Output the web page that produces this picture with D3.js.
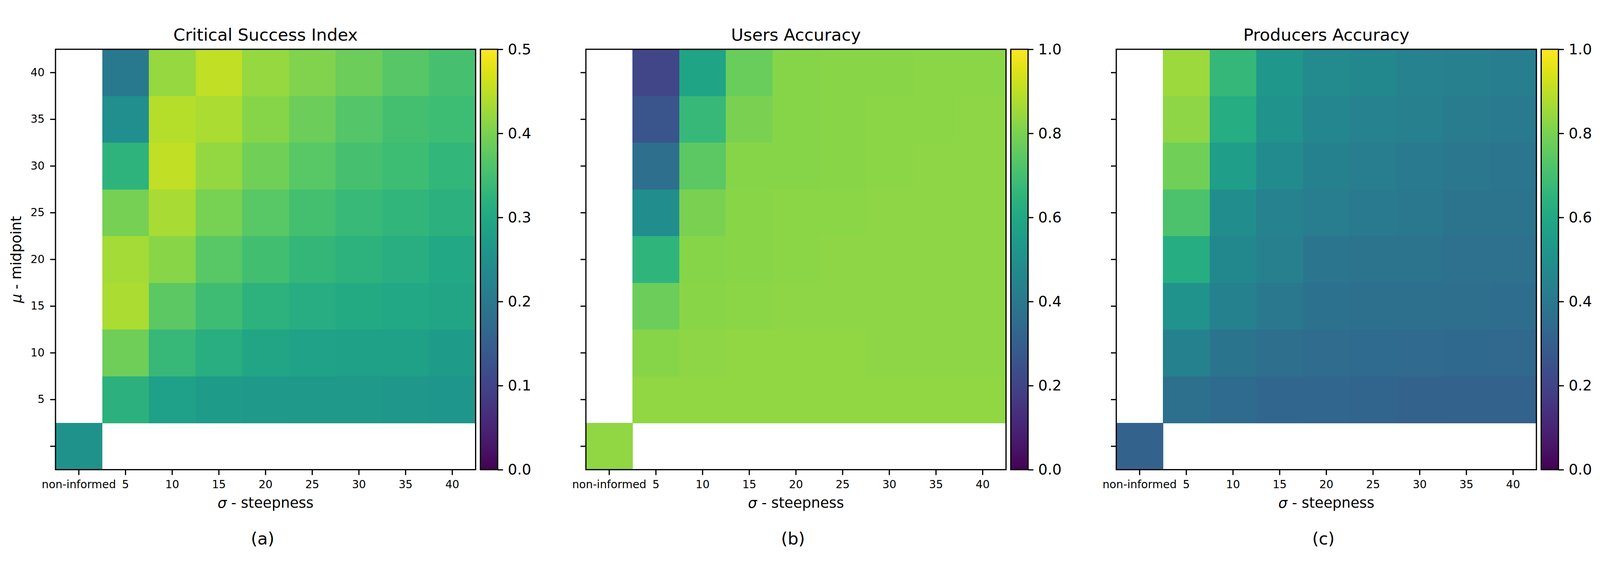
<!DOCTYPE html>
<html>
<head>
<meta charset="utf-8">
<script src="https://cdn.jsdelivr.net/npm/d3@7"></script>
<style>
html, body { margin: 0; padding: 0; width: 100%; height: 100%; overflow: hidden; background: white; }
svg { display: block; }
text { font-family: "DejaVu Sans", sans-serif; fill: black; }
</style>
</head>
<body>
<svg id="chart" width="100%" height="100%" viewBox="0 0 4353 1466" preserveAspectRatio="xMidYMid meet"></svg>
<script>
/*******
* data *
*******/
var sigma_cats = ["non-informed", "5", "10", "15", "20", "25", "30", "35", "40"]
var mu_cats = ["non-informed", "5", "10", "15", "20", "25", "30", "35", "40"]
var mu_tick_labels = ["", "5", "10", "15", "20", "25", "30", "35", "40"]

// rows go from mu = 40 (top) down to mu = 5, columns are sigma = 5 .. 40
var mu_rows = ["40", "35", "30", "25", "20", "15", "10", "5"]

var csi_values = [
  [0.203, 0.420, 0.452, 0.421, 0.405, 0.387, 0.369, 0.352],
  [0.248, 0.445, 0.437, 0.410, 0.387, 0.367, 0.351, 0.343],
  [0.323, 0.452, 0.418, 0.392, 0.370, 0.352, 0.342, 0.330],
  [0.395, 0.435, 0.398, 0.370, 0.350, 0.337, 0.328, 0.320],
  [0.433, 0.411, 0.371, 0.348, 0.331, 0.322, 0.313, 0.300],
  [0.436, 0.374, 0.344, 0.322, 0.312, 0.303, 0.299, 0.293],
  [0.390, 0.335, 0.313, 0.293, 0.289, 0.285, 0.285, 0.275],
  [0.320, 0.282, 0.274, 0.271, 0.268, 0.268, 0.265, 0.263]
]
var csi_noninf = 0.255

var users_values = [
  [0.210, 0.585, 0.772, 0.817, 0.823, 0.823, 0.825, 0.826],
  [0.260, 0.670, 0.800, 0.820, 0.823, 0.825, 0.826, 0.832],
  [0.360, 0.748, 0.817, 0.820, 0.823, 0.826, 0.830, 0.830],
  [0.490, 0.797, 0.822, 0.825, 0.825, 0.832, 0.832, 0.832],
  [0.650, 0.817, 0.823, 0.826, 0.830, 0.832, 0.832, 0.832],
  [0.775, 0.822, 0.827, 0.832, 0.832, 0.832, 0.832, 0.832],
  [0.817, 0.832, 0.833, 0.833, 0.833, 0.832, 0.832, 0.832],
  [0.835, 0.835, 0.835, 0.835, 0.835, 0.835, 0.835, 0.835]
]
var users_noninf = 0.835

var producers_values = [
  [0.850, 0.665, 0.535, 0.475, 0.465, 0.445, 0.430, 0.425],
  [0.830, 0.620, 0.515, 0.460, 0.440, 0.430, 0.415, 0.410],
  [0.785, 0.555, 0.480, 0.435, 0.420, 0.410, 0.395, 0.390],
  [0.715, 0.490, 0.445, 0.420, 0.410, 0.400, 0.380, 0.380],
  [0.620, 0.465, 0.430, 0.390, 0.380, 0.380, 0.370, 0.370],
  [0.515, 0.435, 0.400, 0.375, 0.365, 0.365, 0.360, 0.355],
  [0.435, 0.385, 0.360, 0.348, 0.345, 0.340, 0.338, 0.335],
  [0.365, 0.345, 0.330, 0.325, 0.322, 0.315, 0.310, 0.310]
]
var producers_noninf = 0.315

var titles = ["Critical Success Index", "Users Accuracy", "Producers Accuracy"]
var sub_labels = ["(a)", "(b)", "(c)"]
var vmax = [0.5, 1.0, 1.0]
var cbar_ticks = [[0, 0.1, 0.2, 0.3, 0.4, 0.5],
                  [0, 0.2, 0.4, 0.6, 0.8, 1.0],
                  [0, 0.2, 0.4, 0.6, 0.8, 1.0]]

var all_values = [csi_values, users_values, producers_values]
var all_noninf = [csi_noninf, users_noninf, producers_noninf]

/*********
* layout *
*********/
var plot_size = 1143
var plot_top = 88
var panel_left = [151, 1594, 3037]
var cbar_gap = 13
var cbar_width = 47
var line_w = 3.3
var tick_len = 14.6

var svg = d3.select("#chart")

svg.append("rect")
  .attr("width", 4353)
  .attr("height", 1466)
  .attr("fill", "white")

// shared viridis gradient for the colorbars
var grad = svg.append("defs")
  .append("linearGradient")
  .attr("id", "viridis")
  .attr("x1", 0).attr("y1", 1)
  .attr("x2", 0).attr("y2", 0)

grad.selectAll("stop")
  .data(d3.range(0, 1.0001, 0.02))
  .enter()
  .append("stop")
  .attr("offset", function(t){ return t })
  .attr("stop-color", function(t){ return d3.interpolateViridis(t) })

function cells_of(k){
  var out = []
  all_values[k].forEach(function(row, r){
    row.forEach(function(v, c){
      out.push({sigma: sigma_cats[c + 1], mu: mu_rows[r], v: v})
    })
  })
  out.push({sigma: "non-informed", mu: "non-informed", v: all_noninf[k]})
  return out
}

function style_axis(g, size){
  g.select(".domain").remove()
  g.selectAll(".tick line")
    .attr("stroke", "black")
    .attr("stroke-width", line_w)
  g.selectAll(".tick text")
    .attr("font-size", size)
    .attr("font-family", "DejaVu Sans")
    .attr("fill", "black")
}

/**********
* panels *
**********/
function draw_panel(k){
  var left = panel_left[k]
  var g = svg.append("g")
    .attr("transform", "translate(" + left + "," + plot_top + ")")

  var x = d3.scaleBand().domain(sigma_cats).range([0, plot_size])
  var y = d3.scaleBand().domain(mu_cats).range([plot_size, 0])
  var color = d3.scaleSequential(d3.interpolateViridis).domain([0, vmax[k]])

  g.append("g")
    .selectAll("rect")
    .data(cells_of(k))
    .enter()
    .append("rect")
    .attr("x", function(d){ return x(d.sigma) })
    .attr("y", function(d){ return y(d.mu) })
    .attr("width", x.bandwidth() + 0.5)
    .attr("height", y.bandwidth() + 0.5)
    .attr("fill", function(d){ return color(d.v) })
    .attr("shape-rendering", "crispEdges")

  var xa = g.append("g")
    .attr("transform", "translate(0," + plot_size + ")")
    .call(d3.axisBottom(x).tickSize(tick_len).tickPadding(15))
  style_axis(xa, 30)

  var ya = g.append("g")
    .call(d3.axisLeft(y).tickSize(tick_len).tickPadding(15)
      .tickFormat(function(d){
        return k == 0 ? mu_tick_labels[mu_cats.indexOf(d)] : ""
      }))
  style_axis(ya, 30)
  if (k != 0) ya.selectAll(".tick text").remove()

  g.append("rect")
    .attr("x", 0)
    .attr("y", 0)
    .attr("width", plot_size)
    .attr("height", plot_size)
    .attr("fill", "none")
    .attr("stroke", "black")
    .attr("stroke-width", line_w)

  // colorbar
  var cb = g.append("g")
    .attr("transform", "translate(" + (plot_size + cbar_gap) + ",0)")
  cb.append("rect")
    .attr("width", cbar_width)
    .attr("height", plot_size)
    .attr("fill", "url(#viridis)")
  var cs = d3.scaleLinear().domain([0, vmax[k]]).range([plot_size, 0])
  var ca = cb.append("g")
    .attr("transform", "translate(" + cbar_width + ",0)")
    .call(d3.axisRight(cs).tickValues(cbar_ticks[k])
      .tickFormat(d3.format(".1f")).tickSize(tick_len).tickPadding(13))
  style_axis(ca, 40)
  cb.append("rect")
    .attr("width", cbar_width)
    .attr("height", plot_size)
    .attr("fill", "none")
    .attr("stroke", "black")
    .attr("stroke-width", line_w)

  // texts
  g.append("text")
    .attr("x", plot_size / 2)
    .attr("y", -23)
    .attr("text-anchor", "middle")
    .attr("font-size", 46)
    .text(titles[k])

  var xl = g.append("text")
    .attr("x", plot_size / 2)
    .attr("y", 1335 - plot_top)
    .attr("text-anchor", "middle")
    .attr("font-size", 39)
  xl.append("tspan").attr("font-style", "italic").text("σ")
  xl.append("tspan").text(" - steepness")

  g.append("text")
    .attr("x", plot_size / 2 - 8)
    .attr("y", 1434 - plot_top)
    .attr("text-anchor", "middle")
    .attr("font-size", 46)
    .text(sub_labels[k])

  if (k == 0){
    var yl = g.append("text")
      .attr("transform", "translate(" + (57 - left) + "," + (plot_size / 2) + ") rotate(-90)")
      .attr("text-anchor", "middle")
      .attr("font-size", 39)
    yl.append("tspan").attr("font-style", "italic").text("μ")
    yl.append("tspan").text(" - midpoint")
  }
}

draw_panel(0)
draw_panel(1)
draw_panel(2)
</script>
</body>
</html>
